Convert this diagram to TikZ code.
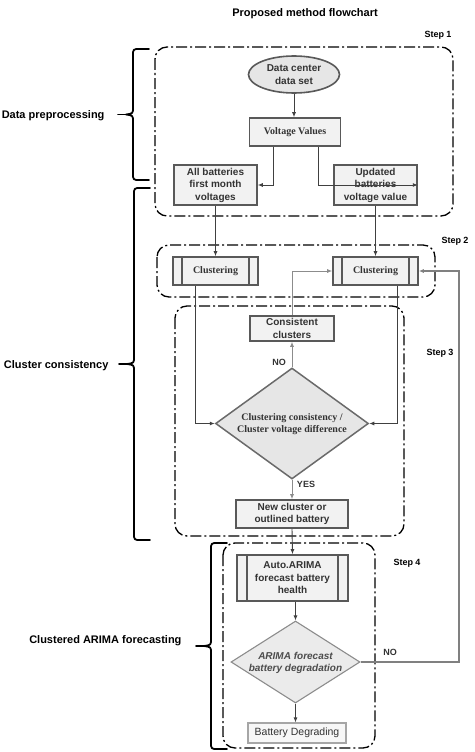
\documentclass[tikz,border=0pt]{standalone}
\usepackage{fontspec}
\setmainfont{Liberation Sans}
\newfontfamily\serifbf{Liberation Serif}
\usetikzlibrary{shapes.geometric,arrows.meta,calc}
\definecolor{boxfill}{HTML}{F2F2F2}
\definecolor{boxdraw}{HTML}{595959}
\definecolor{txtgray}{HTML}{333333}
\definecolor{diafill}{HTML}{E6E6E6}
\definecolor{arrgray}{HTML}{404040}
\definecolor{lightarr}{HTML}{8C8C8C}
\begin{document}
\begin{tikzpicture}[x=1pt,y=-1pt,
  stage/.style={draw=black, line width=1.3pt, dash pattern=on 11pt off 3pt on 2pt off 3pt, rounded corners=12pt},
  procbox/.style={draw=boxdraw, fill=boxfill, line width=1.6pt, inner sep=0pt, align=center,
    font=\bfseries\fontsize{10}{12.5}\selectfont, text=txtgray},
  serifbox/.style={procbox, font=\serifbf\bfseries\fontsize{10}{12}\selectfont},
  ellbox/.style={procbox, ellipse, fill=diafill},
  diabox/.style={diamond, draw=boxdraw!90, fill=diafill, line width=1.5pt, inner sep=0pt},
  lightdia/.style={diamond, draw=black!45, fill=black!8, line width=1.1pt, inner sep=0pt},
  degrbox/.style={draw=black!35, fill=black!3, line width=1.2pt, inner sep=0pt,
    font=\fontsize{10.5}{12}\selectfont, text=txtgray},
  arr/.style={draw=arrgray, line width=0.9pt, -{Latex[length=5pt,width=4pt]}},
  larr/.style={draw=lightarr, line width=0.9pt, -{Latex[length=5pt,width=4pt]}},
  brc/.style={draw=black, line width=1.8pt, line join=round, line cap=round},
  side/.style={font=\bfseries\fontsize{11}{13}\selectfont, anchor=east},
  steplbl/.style={font=\bfseries\fontsize{9}{11}\selectfont},
  yn/.style={font=\bfseries\fontsize{9}{11}\selectfont, text=txtgray}
]
\useasboundingbox (0,0) rectangle (474,752);

% title and labels
\node[font=\bfseries\fontsize{11}{13}\selectfont] (title) at (305,14) {Proposed method flowchart};
\node[steplbl] (s1) at (438,35) {Step 1};
\node[steplbl] (s2) at (455,241) {Step 2};
\node[steplbl] (s3) at (440,353) {Step 3};
\node[steplbl] (s4) at (407,563) {Step 4};

% stage containers
\draw[stage] (155,47) rectangle (453,216);
\draw[stage] (157,245) rectangle (435,297);
\draw[stage] (175,306) rectangle (404,536);
\draw[stage] (223,543) rectangle (375,748);

% braces (end x / top y / bottom y)
\foreach \xe/\yt/\yb in {149/49/180, 150/188/540, 227/543/749} {
  \pgfmathsetmacro{\xs}{\xe-16}
  \pgfmathsetmacro{\xt}{\xe-23}
  \pgfmathsetmacro{\xn}{\xe-31}
  \pgfmathsetmacro{\ym}{(\yt+\yb)/2}
  \draw[brc] (\xe,\yt) -- (\xs+7,\yt) .. controls (\xs,\yt) .. (\xs,\yt+7)
    -- (\xs,\ym-7) .. controls (\xs,\ym-1) .. (\xt,\ym)
    .. controls (\xs,\ym+1) .. (\xs,\ym+7)
    -- (\xs,\yb-7) .. controls (\xs,\yb) .. (\xs+7,\yb) -- (\xe,\yb);
  \draw[brc] (\xn,\ym) -- (\xt,\ym);
}
\node[side] (lp) at (108,116) {Data preprocessing};
\node[side] (lc) at (112,366) {Cluster consistency};
\node[side] (la) at (185,641) {Clustered ARIMA forecasting};

% nodes
\node[ellbox, minimum width=91pt, minimum height=37pt] (dc) at (294,74.5) {Data center\\data set};
\node[serifbox, minimum width=91pt, minimum height=28pt] (vv) at (295,132) {Voltage Values};
\node[procbox, minimum width=83pt, minimum height=40pt] (ab) at (215.5,185) {All batteries\\first month\\voltages};
\node[procbox, minimum width=83pt, minimum height=40pt] (ub) at (375.5,185) {Updated\\batteries\\voltage value};
\node[serifbox, minimum width=85pt, minimum height=28pt] (c1) at (215.5,271) {Clustering};
\node[serifbox, minimum width=85pt, minimum height=28pt] (c2) at (375.5,271) {Clustering};
\foreach \n in {c1,c2} {
  \draw[draw=boxdraw, line width=1.6pt] ([xshift=10pt]\n.north west) -- ([xshift=10pt]\n.south west);
  \draw[draw=boxdraw, line width=1.6pt] ([xshift=-10pt]\n.north east) -- ([xshift=-10pt]\n.south east);
}
\node[procbox, minimum width=84pt, minimum height=25pt] (cc) at (292,328.5) {Consistent\\clusters};
\node[diabox, minimum width=153pt, minimum height=111pt] (d1) at (292,423.5) {};
\node[font=\serifbf\bfseries\fontsize{10}{12}\selectfont, text=txtgray, align=center] (d1t) at (292,424.5) {Clustering consistency /\\Cluster voltage difference};
\node[procbox, minimum width=112pt, minimum height=28pt] (nc) at (292,514) {New cluster or\\outlined battery};
\node[procbox, minimum width=111pt, minimum height=46pt] (ar) at (292.5,578) {Auto.ARIMA\\forecast battery\\health};
\draw[draw=boxdraw, line width=1.6pt] ([xshift=11pt]ar.north west) -- ([xshift=11pt]ar.south west);
\draw[draw=boxdraw, line width=1.6pt] ([xshift=-11pt]ar.north east) -- ([xshift=-11pt]ar.south east);
\node[lightdia, minimum width=129pt, minimum height=82pt] (d2) at (295.5,662) {};
\node[font=\bfseries\itshape\fontsize{10}{12.5}\selectfont, text=black!70, align=center] (d2t) at (295.5,663) {ARIMA forecast\\battery degradation};
\node[degrbox, minimum width=98pt, minimum height=20pt] (bd) at (297,733) {Battery Degrading};

% connectors
\draw[arr] (dc.south) -- (dc.south |- vv.north);
\draw[arr] ([xshift=-22pt]vv.south) |- (ab.east);
\draw[arr] ([xshift=23pt]vv.south) |- (ub.east);
\draw[arr] (ab.south) -- (c1.north);
\draw[arr] (ub.south) -- (c2.north);
\draw[arr] ([xshift=-20pt]c1.south) |- (d1.west);
\draw[arr] ([xshift=21.5pt]c2.south) |- (d1.east);
\draw[larr] (d1.north) -- (cc.south);
\draw[larr] (cc.north) |- (c2.west);
\draw[larr] (d1.south) -- (nc.north);
\draw[arr] (nc.south) -- (ar.north);
\draw[arr] (d2.north |- ar.south) -- (d2.north);
\draw[arr] (d2.south) -- (d2.south |- bd.north);
\coordinate (fb) at (459,662);
\draw[draw=black!50, line width=1.1pt, -{Latex[length=5pt,width=4pt]}] (d2.east) -- (fb) |- (c2.east);

% decision labels
\node[yn] (no1) at (279,362) {NO};
\node[yn] (yes1) at (306,484) {YES};
\node[yn] (no2) at (390,652) {NO};
\end{tikzpicture}
\end{document}
